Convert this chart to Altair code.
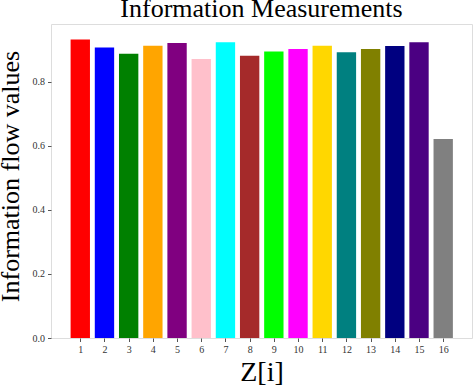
import altair as alt
import pandas as pd

categories = list(range(1, 17))
values = [0.932, 0.907, 0.887, 0.912, 0.921, 0.871, 0.923, 0.881,
          0.894, 0.902, 0.912, 0.892, 0.902, 0.911, 0.923, 0.621]
colors = ["#FF0000", "#0000FF", "#008000", "#FFA500", "#800080", "#FFC0CB",
          "#00FFFF", "#A52A2A", "#00FF00", "#FF00FF", "#FFD700", "#008080",
          "#808000", "#000080", "#4B0082", "#808080"]

df = pd.DataFrame({"z": categories, "v": values, "c": colors})

FONT = "Liberation Serif"

chart = alt.Chart(df).transform_calculate(
    x0="datum.z - 0.4", x1="datum.z + 0.4"
).mark_bar().encode(
    x=alt.X("x0:Q", scale=alt.Scale(domain=[-0.21, 17.19], nice=False, zero=False),
            axis=alt.Axis(values=categories, format="d", title="Z[i]", grid=False,
                          domain=False, tickSize=3.5, tickColor="#555", labelColor="#333",
                          labelFont=FONT, labelFontSize=10, labelPadding=3,
                          titleFont=FONT, titleFontSize=28, titleFontWeight="normal",
                          titleBaseline="alphabetic", titleY=42, titleColor="#000")),
    x2="x1:Q",
    y=alt.Y("v:Q", scale=alt.Scale(domain=[0, 0.98], nice=False),
            axis=alt.Axis(values=[0, 0.2, 0.4, 0.6, 0.8], format=".1f",
                          title="Information flow values", grid=False, domain=False,
                          tickSize=3.5, tickColor="#555", labelColor="#333",
                          labelFont=FONT, labelFontSize=10, labelPadding=3,
                          titleFont=FONT, titleFontSize=26, titleFontWeight="normal",
                          titleBaseline="alphabetic", titleX=-33, titleY=152,
                          titleAngle=-90, titleColor="#000")),
    y2=alt.datum(0),
    color=alt.Color("c:N", scale=None),
).properties(
    width=421, height=314,
    title=alt.TitleParams("Information Measurements", font=FONT, fontSize=26,
                          fontWeight="normal", color="#000", anchor="middle",
                          baseline="alphabetic", offset=6, dy=25),
    autosize=alt.AutoSizeParams(type="none"),
    padding={"left": 51, "top": 24, "right": 2, "bottom": 48},
).configure_view(stroke="#444", strokeWidth=1.2).configure(background="white")

chart.save("out.html", embed_options={"renderer": "svg", "actions": False})
